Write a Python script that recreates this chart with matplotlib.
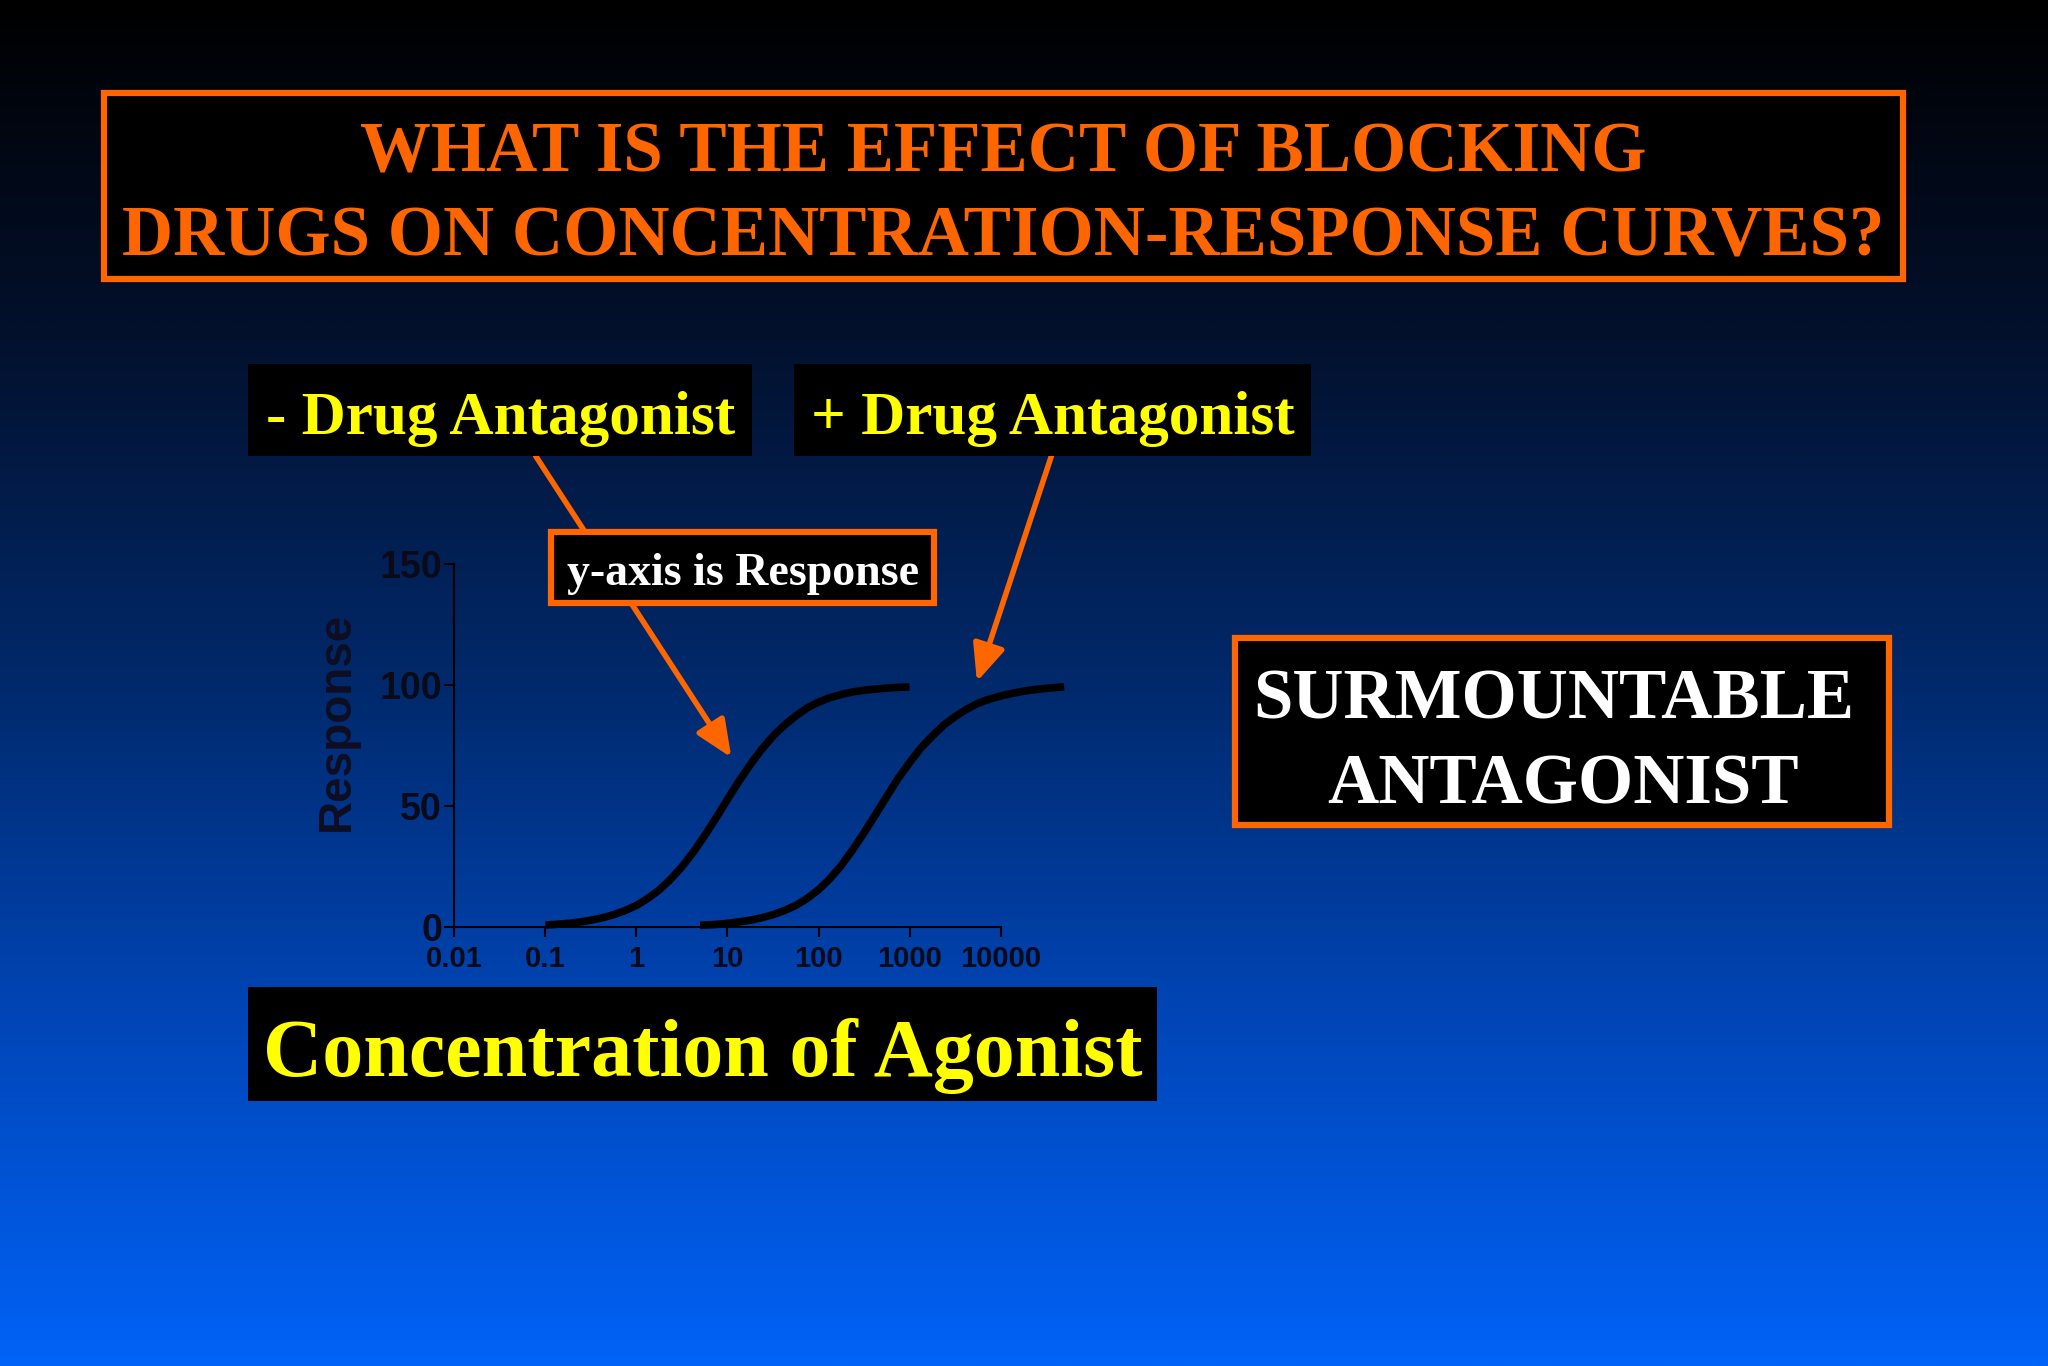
import numpy as np
import matplotlib.pyplot as plt
from matplotlib.colors import LinearSegmentedColormap
from matplotlib.patches import Rectangle, FancyArrowPatch

# Concentration-response values (about 8 points per decade)
conc_control = [0.1, 0.133, 0.178, 0.237, 0.316, 0.422, 0.562, 0.75,
                1, 1.33, 1.78, 2.37, 3.16, 4.22, 5.62, 7.5,
                10, 13.3, 17.8, 23.7, 31.6, 42.2, 56.2, 75,
                100, 133, 178, 237, 316, 422, 562, 750, 1000]
resp_control = [0.9, 1.2, 1.6, 2.15, 2.9, 3.9, 5.2, 6.9,
                9.0, 11.9, 15.4, 19.8, 25.0, 31.1, 37.9, 45.2,
                52.8, 60.2, 67.2, 73.5, 78.9, 83.5, 87.3, 90.6,
                93.0, 94.8, 96.2, 97.2, 97.9, 98.4, 98.8, 99.1, 99.3]

conc_antag = [5, 7.5, 10, 13.3, 17.8, 23.7, 31.6, 42.2, 56.2, 75,
              100, 133, 178, 237, 316, 422, 562, 750,
              1000, 1330, 1780, 2370, 3160, 4220, 5620, 7500,
              10000, 13300, 17800, 23700, 31600, 42200, 50000]
resp_antag = [0.8, 1.15, 1.6, 2.2, 2.9, 3.9, 5.2, 6.9, 9.0, 11.9,
              15.5, 20.0, 25.5, 32.0, 39.0, 46.5, 54.0, 61.5,
              68.0, 74.0, 79.0, 83.5, 87.0, 90.0, 92.5, 94.2,
              95.5, 96.6, 97.5, 98.2, 98.7, 99.1, 99.3]

x_ticks = [0.01, 0.1, 1, 10, 100, 1000, 10000]
x_ticklabels = ['0.01', '0.1', '1', '10', '100', '1000', '10000']
y_ticks = [0, 50, 100, 150]

ORANGE = '#ff6600'
YELLOW = '#ffff00'
SERIF = 'Liberation Serif'
SANS = 'Liberation Sans'

fig = plt.figure(figsize=(20.48, 13.66), dpi=100)

# background gradient
bg = fig.add_axes([0, 0, 1, 1], zorder=-10)
cmap = LinearSegmentedColormap.from_list(
    'slide', [(0.0, '#000000'), (0.25, '#03112e'), (0.5, '#01296b'),
              (0.75, '#0046b8'), (1.0, '#0063f7')])
bg.imshow(np.linspace(0, 1, 512).reshape(-1, 1), aspect='auto', cmap=cmap,
          extent=[0, 1, 0, 1])
bg.axis('off')

# chart
ax = fig.add_axes([0.2219, 0.3212, 0.3022, 0.2658])
ax.patch.set_alpha(0)
ax.plot(conc_control, resp_control, color='black', lw=5.5, clip_on=False,
        solid_capstyle='butt', solid_joinstyle='round', zorder=3)
ax.plot(conc_antag, resp_antag, color='black', lw=5.5, clip_on=False,
        solid_capstyle='butt', solid_joinstyle='round', zorder=3)
ax.set_xscale('log')
ax.set_xlim(0.01, 10 ** 4.8)
ax.set_ylim(0, 150)
ax.set_xticks(x_ticks)
ax.set_xticklabels(x_ticklabels)
ax.minorticks_off()
ax.set_yticks(y_ticks)
ax.spines['top'].set_visible(False)
ax.spines['right'].set_visible(False)
ax.spines['bottom'].set_bounds(0.01, 10000)
for s in ['left', 'bottom']:
    ax.spines[s].set_linewidth(1.5)
    ax.spines[s].set_color('black')
ax.tick_params(axis='x', length=7, width=1.5, pad=6, labelsize=21,
               labelcolor='#0a0a18')
ax.tick_params(axis='y', length=7, width=1.5, pad=2, labelsize=27,
               labelcolor='#0a0a18')
for lab in ax.get_xticklabels() + ax.get_yticklabels():
    lab.set_family(SANS)
    lab.set_fontweight('bold')

fig.text(0.1645, 0.472, 'Response', rotation=90, ha='center', va='center',
         fontsize=33, fontweight='bold', family=SANS, color='#0e0e22')

# arrows (drawn before the boxes so the y-axis box hides part of one)
for start, end in [((0.2615, 0.6663), (0.3571, 0.4455)),
                   ((0.5134, 0.6663), (0.4770, 0.5010))]:
    fig.add_artist(FancyArrowPatch(start, end, transform=fig.transFigure,
                                   arrowstyle='-|>,head_length=1.6,head_width=0.7',
                                   mutation_scale=14, color=ORANGE, lw=4,
                                   shrinkA=0, shrinkB=0, zorder=2))


def box(x0, y0, x1, y1, edge=None):
    fig.add_artist(Rectangle((x0, y0), x1 - x0, y1 - y0,
                             transform=fig.transFigure, facecolor='black',
                             edgecolor=edge if edge else 'none',
                             lw=4.5 if edge else 0, zorder=4))


# title
box(0.0510, 0.7960, 0.9290, 0.9320, ORANGE)
fig.text(0.490, 0.8875, 'WHAT IS THE EFFECT OF BLOCKING', ha='center',
         va='center', fontsize=51, fontweight='bold', family=SERIF,
         color=ORANGE, zorder=5)
fig.text(0.490, 0.8255, 'DRUGS ON CONCENTRATION-RESPONSE CURVES?',
         ha='center', va='center', fontsize=51, fontweight='bold',
         family=SERIF, color=ORANGE, zorder=5)

# curve labels
box(0.1212, 0.6663, 0.3673, 0.7333)
fig.text(0.2443, 0.693, '- Drug Antagonist', ha='center', va='center',
         fontsize=44, fontweight='bold', family=SERIF, color=YELLOW, zorder=5)
box(0.3878, 0.6663, 0.6403, 0.7333)
fig.text(0.5140, 0.693, '+ Drug Antagonist', ha='center', va='center',
         fontsize=44, fontweight='bold', family=SERIF, color=YELLOW, zorder=5)

box(0.2690, 0.5585, 0.4562, 0.6108, ORANGE)
fig.text(0.3626, 0.5795, 'y-axis is Response', ha='center', va='center',
         fontsize=33, fontweight='bold', family=SERIF, color='white', zorder=5)

# x-axis caption
box(0.1212, 0.1940, 0.5651, 0.2772)
fig.text(0.3431, 0.2273, 'Concentration of Agonist', ha='center',
         va='center', fontsize=59, fontweight='bold', family=SERIF,
         color=YELLOW, zorder=5)

# right box
box(0.6030, 0.3960, 0.9225, 0.5330, ORANGE)
fig.text(0.7585, 0.4866, 'SURMOUNTABLE', ha='center', va='center',
         fontsize=51, fontweight='bold', family=SERIF, color='white',
         zorder=5)
fig.text(0.7630, 0.4245, 'ANTAGONIST', ha='center', va='center',
         fontsize=51, fontweight='bold', family=SERIF, color='white',
         zorder=5)

fig.savefig('out.png', dpi=100)
